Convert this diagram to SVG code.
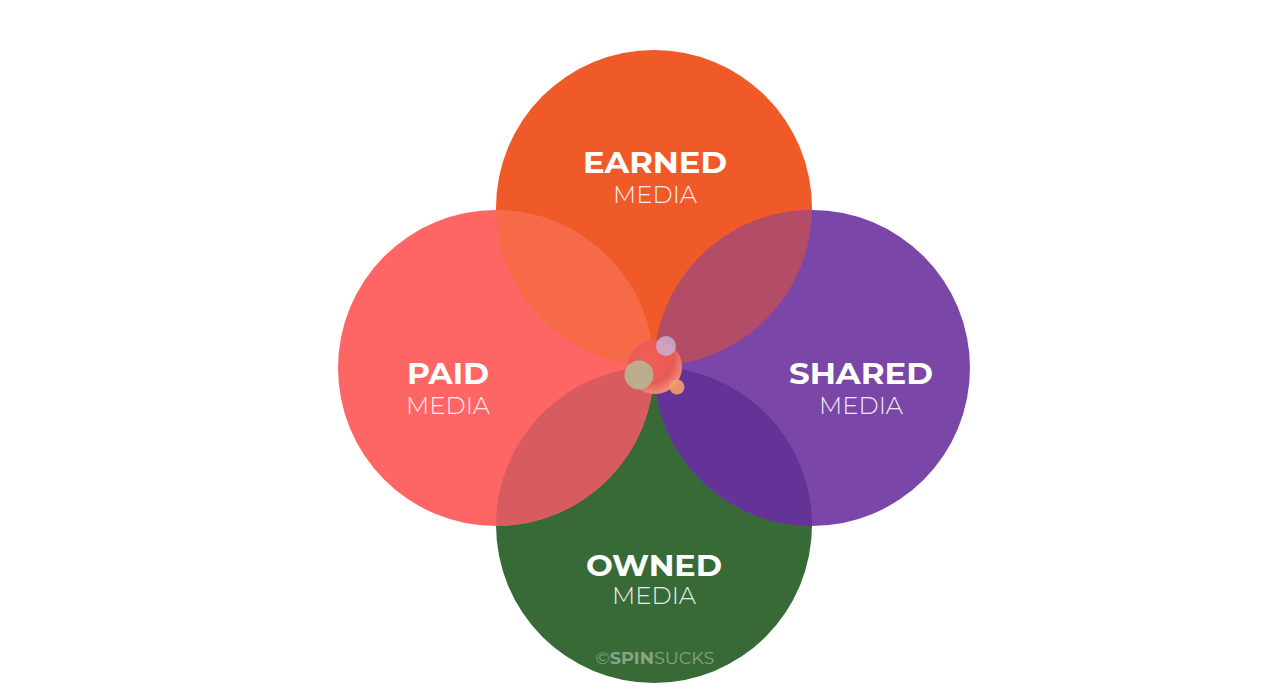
<svg xmlns="http://www.w3.org/2000/svg" width="1280" height="695" viewBox="0 0 1280 695">
<defs>
<style>
.t{font-family:Montserrat,"Noto Sans","Liberation Sans",sans-serif;font-weight:700;font-size:29px;fill:#fff;text-anchor:middle}
.s{font-family:Montserrat,"Lato","Noto Sans",sans-serif;font-weight:300;font-size:24px;fill:#fff;text-anchor:middle;fill-opacity:0.9}
</style>
<clipPath id="cE"><circle cx="654" cy="208" r="158"/></clipPath>
<clipPath id="cO"><circle cx="654" cy="525" r="158"/></clipPath>
<radialGradient id="g1" cx="0.4" cy="0.35" r="0.75">
<stop offset="0" stop-color="#F0605A"/>
<stop offset="0.6" stop-color="#E85A55"/>
<stop offset="1" stop-color="#F4A38E"/>
</radialGradient>
</defs>
<rect width="1280" height="695" fill="#fff"/>
<g id="owned"><circle cx="654" cy="525" r="158" fill="#386A38"/></g>
<g id="earned"><circle cx="654" cy="208" r="158" fill="#F05A28"/></g>
<g id="paid"><circle cx="496" cy="368" r="158" fill="#FE6666"/></g>
<g id="shared"><circle cx="812" cy="368" r="158" fill="#7A46A8"/></g>
<g id="overlaps">
<circle cx="496" cy="368" r="158" fill="#F66A48" clip-path="url(#cE)"/>
<circle cx="812" cy="368" r="158" fill="#B34D67" clip-path="url(#cE)"/>
<circle cx="496" cy="368" r="158" fill="#D85B5F" clip-path="url(#cO)"/>
<circle cx="812" cy="368" r="158" fill="#633397" clip-path="url(#cO)"/>
</g>
<g id="center">
<circle cx="655" cy="367" r="27" fill="url(#g1)"/>
<circle cx="666" cy="346" r="10" fill="#C8B4D8" fill-opacity="0.8"/>
<circle cx="677" cy="387" r="7.5" fill="#F2A068" fill-opacity="0.9"/>
<circle cx="639" cy="375" r="14.5" fill="#B0C098" fill-opacity="0.8"/>
</g>
<g id="labels">
<text class="t" x="655" y="173" textLength="144" lengthAdjust="spacingAndGlyphs">EARNED</text>
<text class="s" x="655" y="203" textLength="84" lengthAdjust="spacingAndGlyphs">MEDIA</text>
<text class="t" x="448" y="384" textLength="82" lengthAdjust="spacingAndGlyphs">PAID</text>
<text class="s" x="448" y="414" textLength="84" lengthAdjust="spacingAndGlyphs">MEDIA</text>
<text class="t" x="861" y="384" textLength="144" lengthAdjust="spacingAndGlyphs">SHARED</text>
<text class="s" x="861" y="414" textLength="84" lengthAdjust="spacingAndGlyphs">MEDIA</text>
<text class="t" x="654" y="576" textLength="136" lengthAdjust="spacingAndGlyphs">OWNED</text>
<text class="s" x="654" y="604" font-size="23" textLength="84" lengthAdjust="spacingAndGlyphs">MEDIA</text>
<text x="655" y="664" font-family="Montserrat,'Noto Sans','Liberation Sans',sans-serif" font-size="16" fill="#86A584" text-anchor="middle" textLength="119" lengthAdjust="spacingAndGlyphs">©<tspan font-weight="700">SPIN</tspan>SUCKS</text>
</g>
</svg>
